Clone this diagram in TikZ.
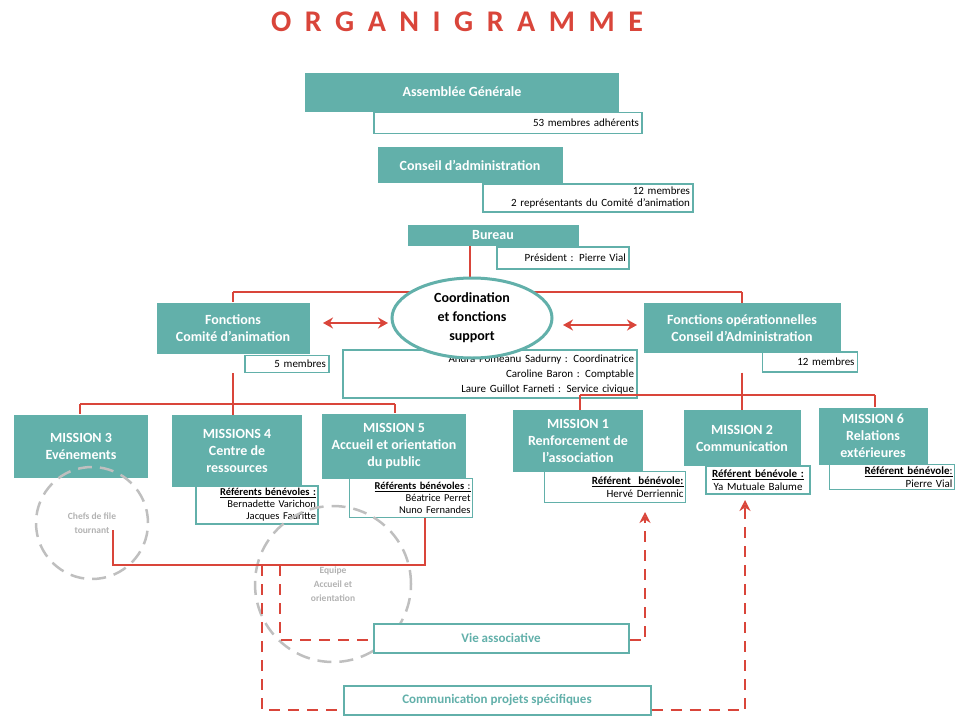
\documentclass[tikz,border=0pt]{standalone}
\usepackage{fontspec}
\setmainfont{Carlito}
\usetikzlibrary{arrows.meta,shapes.geometric}
\definecolor{teal1}{HTML}{62B0AA}
\definecolor{red1}{HTML}{D9453A}
\begin{document}
\begin{tikzpicture}[x=1pt,y=-1pt,
 tb/.style={fill=teal1,text=white,font=\bfseries\fontsize{14}{17}\selectfont,align=center,inner sep=0pt},
 sb/.style={draw=teal1,line width=1.4pt,fill=white,font=\fontsize{11}{13}\selectfont,align=right,inner sep=2pt},
 rl/.style={draw=red1,line width=2.6pt},
 rd/.style={draw=red1,line width=2.6pt,dash pattern=on 11pt off 8pt},
 gc/.style={draw=black!25,line width=2.5pt,dash pattern=on 14pt off 8pt},
 ar/.style={-{Stealth[length=11pt,width=11pt,open]}}]
\useasboundingbox (0,0) rectangle (960,720);
\node[text=red1,font=\bfseries\fontsize{30}{32}\selectfont] (title) at (457,22) {O\hspace{0.45em}R\hspace{0.45em}G\hspace{0.45em}A\hspace{0.45em}N\hspace{0.45em}I\hspace{0.45em}G\hspace{0.45em}R\hspace{0.45em}A\hspace{0.45em}M\hspace{0.45em}M\hspace{0.45em}E};
% top boxes
\node[tb,minimum width=314,minimum height=39] (ag) at (462,92) {Assemblée Générale};
\node[sb,minimum width=268,minimum height=21,text width=262] (ags) at (508,123) {53 membres adhérents};
\node[tb,minimum width=185,minimum height=36] (ca) at (470,165) {Conseil d’administration};
\node[sb,minimum width=210,minimum height=28,text width=204,font=\fontsize{11}{12}\selectfont] (cas) at (588,198) {12 membres\\2 représentants du Comité d’animation};
\node[tb,minimum width=171,minimum height=21] (bu) at (493,235) {Bureau};
\node[sb,minimum width=132,minimum height=22,text width=126] (bus) at (563,258) {Président : Pierre Vial};
% level 2
\coordinate (j1) at (470,292);
\coordinate (jl) at (233,292);
\coordinate (jr) at (742,292);
\draw[rl] (bu.south -| j1) -- (j1);
\draw[rl] (jl) -- (jr);
\node[tb,minimum width=153,minimum height=51] (fc) at (233,328) {Fonctions\\Comité d’animation};
\node[sb,minimum width=84,minimum height=17,text width=78] (fcs) at (287,364) {5 membres};
\node[tb,minimum width=197,minimum height=50] (fo) at (742,328) {Fonctions opérationnelles\\Conseil d’Administration};
\node[sb,minimum width=95,minimum height=20,text width=89] (fos) at (810,362) {12 membres};
\draw[rl] (jl) -- (fc.north);
\draw[rl] (jr) -- (fo.north);
\node[sb,minimum width=294,minimum height=48,text width=288,inner sep=1pt,font=\fontsize{11}{15}\selectfont] (cos) at (490,374) {\\[-6pt]Andra Pomeanu Sadurny : Coordinatrice\\Caroline Baron : Comptable\\Laure Guillot Farneti : Service civique};
\node[ellipse,draw=teal1,line width=3pt,fill=white,minimum width=160,minimum height=80,inner sep=0pt,align=center,font=\bfseries\fontsize{14}{19}\selectfont,text=black] (co) at (472,318) {Coordination\\et fonctions\\support};
\coordinate (a1) at (323,323); \coordinate (a2) at (388,323);
\coordinate (a3) at (563,325); \coordinate (a4) at (637,325);
\draw[red1,line width=2.6pt,{Stealth[length=10pt,width=11pt]}-{Stealth[length=10pt,width=11pt]}] (a1) -- (a2);
\draw[red1,line width=2.6pt,{Stealth[length=10pt,width=11pt]}-{Stealth[length=10pt,width=11pt]}] (a3) -- (a4);
% left missions
\coordinate (l0) at (233,404); \coordinate (l1) at (80,404); \coordinate (l3) at (395,404);
\draw[rl] (fcs.south -| l0) -- (l0);
\draw[rl] (l1) -- (l3);
\node[tb,minimum width=134,minimum height=63] (m3) at (81,446) {MISSION 3\\Evénements};
\node[tb,minimum width=130,minimum height=72] (m4) at (237,451) {MISSIONS 4\\Centre de\\ressources};
\node[tb,minimum width=144,minimum height=65] (m5) at (394,446) {MISSION 5\\Accueil et orientation\\du public};
\draw[rl] (l1) -- (m3.north -| l1);
\draw[rl] (l0) -- (m4.north -| l0);
\draw[rl] (l3) -- (m5.north -| l3);
\node[sb,minimum width=122,minimum height=38,text width=118,inner sep=1pt,font=\fontsize{10.5}{12}\selectfont] (m4s) at (257,505) {\underline{\textbf{Référents bénévoles :}}\\Bernadette Varichon\\Jacques Fauritte};
\node[sb,minimum width=123,minimum height=39,text width=119,inner sep=1pt,font=\fontsize{10.5}{12}\selectfont] (m5s) at (411,498) {\underline{\textbf{Référents bénévoles} :}\\Béatrice Perret\\Nuno Fernandes};
% right missions
\coordinate (r0) at (742,395); \coordinate (r1) at (580,395); \coordinate (r3) at (875,395);
\draw[rl] (fos.south -| r0) -- (r0);
\draw[rl] (r1) -- (r3);
\node[tb,minimum width=130,minimum height=62] (m1) at (578,441) {MISSION 1\\Renforcement de\\l’association};
\node[tb,minimum width=117,minimum height=56] (m2) at (742,438) {MISSION 2\\Communication};
\node[tb,minimum width=109,minimum height=57] (m6) at (873,436) {MISSION 6\\Relations\\extérieures};
\draw[rl] (r1) -- (m1.north -| r1);
\draw[rl] (r0) -- (m2.north -| r0);
\draw[rl] (r3) -- (m6.north -| r3);
\node[sb,minimum width=141,minimum height=31,text width=137,inner sep=1pt] (m1s) at (615,487) {\underline{\textbf{Référent\ \ bénévole:}}\\Hervé Derriennic};
\node[sb,minimum width=104,minimum height=28,text width=100,inner sep=1pt,align=center] (m2s) at (758,480) {\underline{\textbf{Référent bénévole :}}\\Ya Mutuale Balume};
\node[sb,minimum width=125,minimum height=25,text width=121,inner sep=1pt] (m6s) at (892,477) {\underline{\textbf{Référent bénévole}:}\\Pierre Vial};
% grey circles
\node[circle,gc,minimum size=112,inner sep=0pt,text=black!30,font=\bfseries\fontsize{9.5}{14}\selectfont,align=center] (c1) at (92,523) {Chefs de file\\tournant};
\node[circle,gc,minimum size=156,inner sep=0pt,text=black!30,font=\bfseries\fontsize{9.5}{14}\selectfont,align=center] (c2) at (333,584) {Equipe\\Accueil et\\orientation};
% red solid bottom link
\coordinate (b1) at (113,565); \coordinate (b2) at (425,565);
\draw[rl] (113,530) -- (b1) -- (b2) -- (m5s.south -| b2);
% dashed
\node[draw=teal1,line width=2pt,fill=white,minimum width=255,minimum height=29,text=teal1,font=\bfseries\fontsize{13}{15}\selectfont] (va) at (501,638) {Vie associative};
\node[draw=teal1,line width=2pt,fill=white,minimum width=307,minimum height=29,text=teal1,font=\bfseries\fontsize{13}{15}\selectfont] (cp) at (497,700) {Communication projets spécifiques};
\coordinate (d1) at (280,565); \coordinate (d2) at (280,640);
\coordinate (d3) at (645,640);
\draw[rd] (d1) -- (d2) -- (va.west |- d2);
\draw[rd,ar] (va.east |- d3) -- (d3) -- (645,512);
\coordinate (e1) at (262,565); \coordinate (e2) at (262,710);
\coordinate (e3) at (745,710);
\draw[rd] (e1) -- (e2) -- (cp.west |- e2);
\draw[rd,ar] (cp.east |- e3) -- (e3) -- (745,500);
\end{tikzpicture}
\end{document}
